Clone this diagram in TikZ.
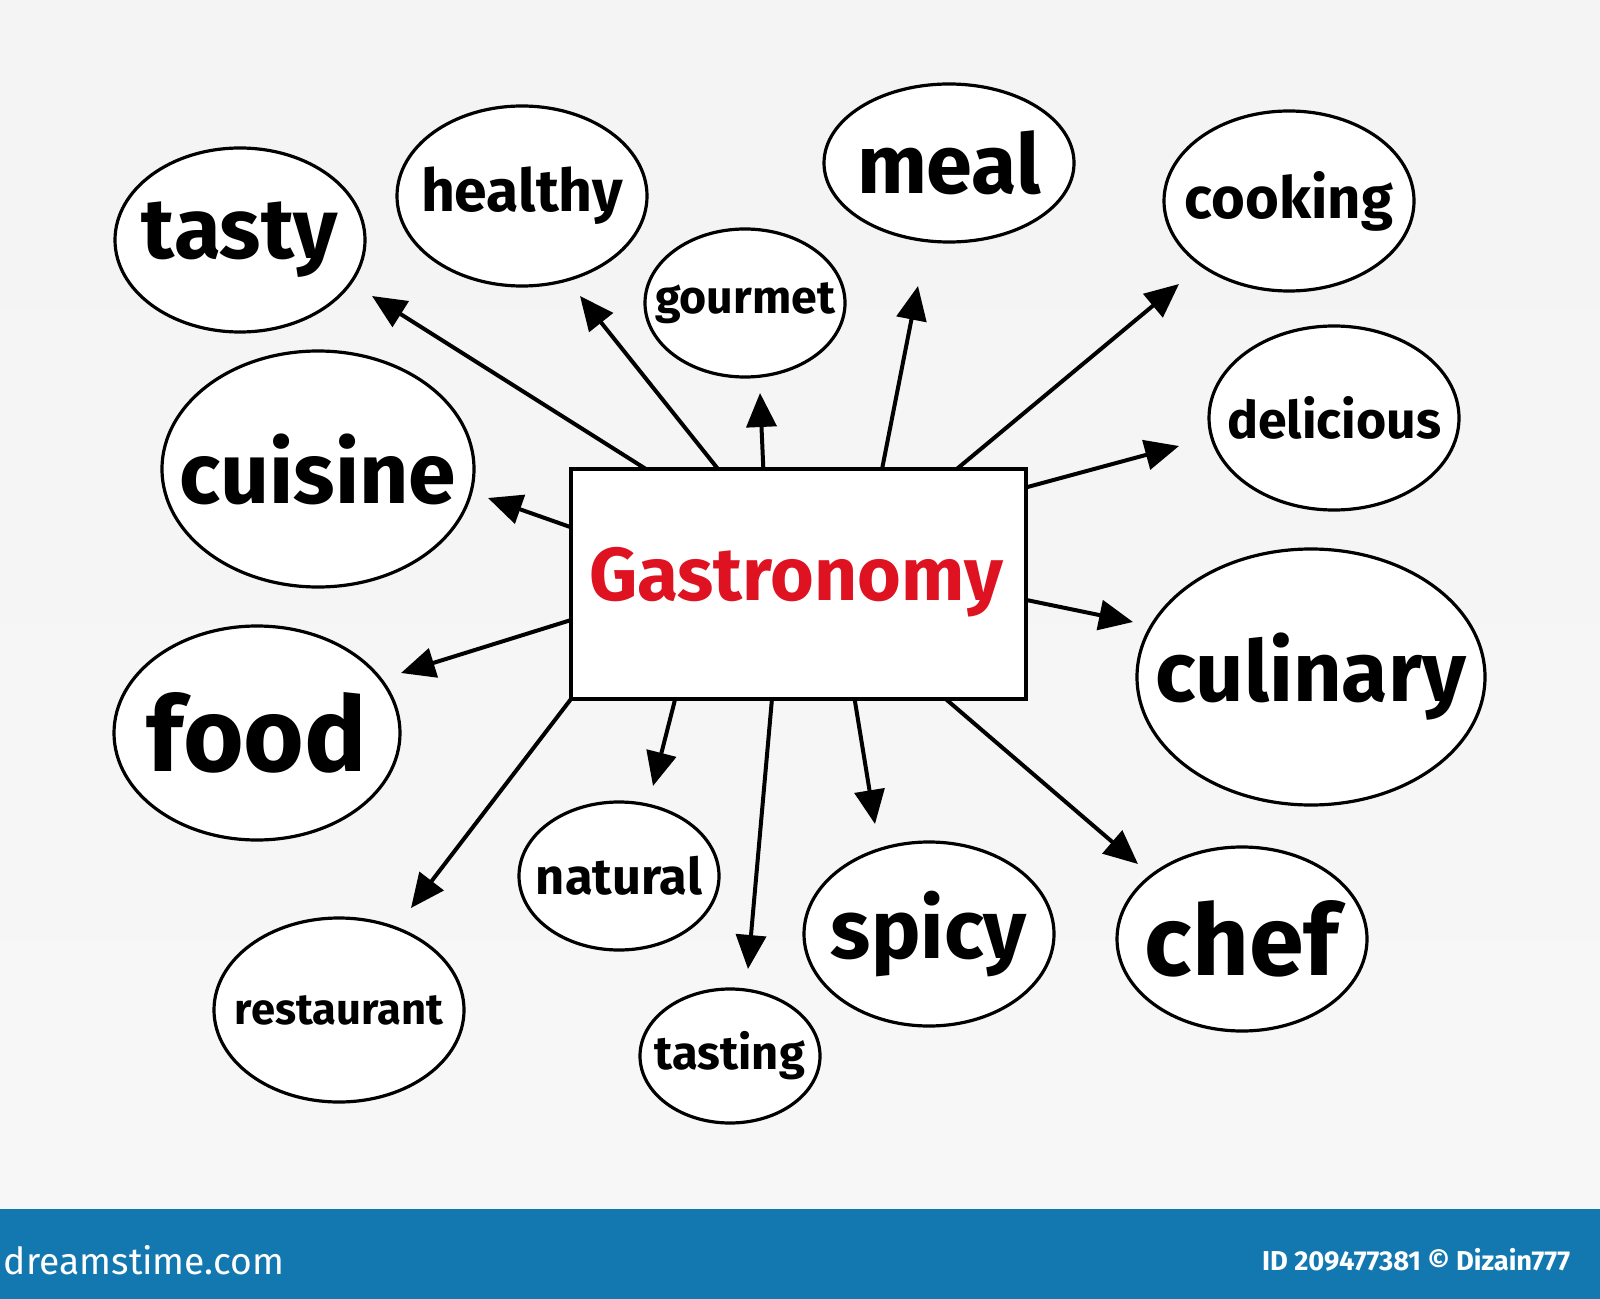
\documentclass[tikz,border=0pt]{standalone}
\usepackage{fontspec}
\setmainfont{Fira Sans}
\usepackage{graphicx}
\usepackage{xcolor}
\usetikzlibrary{arrows.meta}
\usetikzlibrary{shapes.geometric}

\definecolor{gastrored}{RGB}{222,18,32}
\definecolor{barblue}{RGB}{19,120,176}

\tikzset{
  word/.style={ellipse, draw=black, line width=1.6pt, fill=white, inner sep=0pt},
  wordtext/.style={font=\bfseries, inner sep=0pt},
  spoke/.style={line width=2pt, -{Triangle[length=17pt,width=15pt]}},
}
\newcommand{\wordw}[2]{\resizebox{#1pt}{!}{#2}}

\begin{document}
\begin{tikzpicture}[x=0.5pt,y=-0.5pt]
        \useasboundingbox (0,0) rectangle (1600,1299);
        \shade[top color=gray!9, middle color=white, bottom color=gray!6] (0,0) rectangle (1600,1209);
        \fill[barblue] (0,1209) rectangle (1600,1299);

        % centre box
        \node[draw, line width=2.4pt, fill=white, outer sep=0pt, minimum width=227.5pt, minimum height=115pt] (gastro) at (798.5,584) {};
        \node[text=gastrored, font=\bfseries] (title) at (796,582) {\wordw{207}{Gastronomy}};

        \node[word, minimum width=125pt, minimum height=92pt, label={[wordtext]center:{\wordw{98}{tasty}}}] (tasty) at (240,240) {};
        \node[word, minimum width=125pt, minimum height=90pt, label={[wordtext]center:{\wordw{101}{healthy}}}] (healthy) at (522,196) {};
        \node[word, minimum width=100pt, minimum height=74pt, label={[wordtext]center:{\wordw{90}{gourmet}}}] (gourmet) at (745,303) {};
        \node[word, minimum width=125pt, minimum height=79pt, label={[wordtext]center:{\wordw{92}{meal}}}] (meal) at (949,163) {};
        \node[word, minimum width=125pt, minimum height=90pt, label={[wordtext]center:{\wordw{104}{cooking}}}] (cooking) at (1289,201) {};
        \node[word, minimum width=125pt, minimum height=92pt, label={[wordtext]center:{\wordw{107}{delicious}}}] (delicious) at (1334,418) {};
        \node[word, minimum width=156pt, minimum height=118pt, label={[wordtext]center:{\wordw{138}{cuisine}}}] (cuisine) at (318,469) {};
        \node[word, minimum width=174pt, minimum height=128pt, label={[wordtext]center:{\wordw{155}{culinary}}}] (culinary) at (1311,677) {};
        \node[word, minimum width=143pt, minimum height=107pt, label={[wordtext]center:{\wordw{110}{food}}}] (food) at (257,733) {};
        \node[word, minimum width=100pt, minimum height=74pt, label={[wordtext]center:{\wordw{83}{natural}}}] (natural) at (619,876) {};
        \node[word, minimum width=125pt, minimum height=92pt, label={[wordtext]center:{\wordw{104}{restaurant}}}] (restaurant) at (339,1010) {};
        \node[word, minimum width=90pt, minimum height=67pt, label={[wordtext]center:{\wordw{75}{tasting}}}] (tasting) at (730,1056) {};
        \node[word, minimum width=125pt, minimum height=92pt, label={[wordtext]center:{\wordw{98}{spicy}}}] (spicy) at (929,934) {};
        \node[word, minimum width=125pt, minimum height=92pt, label={[wordtext]center:{\wordw{97}{chef}}}] (chef) at (1242,939) {};

        % arrow tips stop short of the words
        \coordinate (tastytip) at (372,296);
        \coordinate (healthytip) at (580,296);
        \coordinate (gourmettip) at (760,393);
        \coordinate (mealtip) at (918,286);
        \coordinate (cookingtip) at (1179,284);
        \coordinate (delicioustip) at (1179,446);
        \coordinate (cuisinetip) at (488,498);
        \coordinate (culinarytip) at (1133,622);
        \coordinate (foodtip) at (401,673);
        \coordinate (restauranttip) at (411,908);
        \coordinate (naturaltip) at (653,786);
        \coordinate (tastingtip) at (748,969);
        \coordinate (spicytip) at (875,824);
        \coordinate (cheftip) at (1138,864);

        \draw[spoke] (gastro.143) -- (tastytip);
        \draw[spoke] (gastro.125) -- (healthytip);
        \draw[spoke] (gastro.107) -- (gourmettip);
        \draw[spoke] (gastro.54) -- (mealtip);
        \draw[spoke] (gastro.36) -- (cookingtip);
        \draw[spoke] (gastro.23) -- (delicioustip);
        \draw[spoke] (gastro.166) -- (cuisinetip);
        \draw[spoke] (gastro.-4.5) -- (culinarytip);
        \draw[spoke] (gastro.-171) -- (foodtip);
        \draw[spoke] (gastro.south west) -- (restauranttip);
        \draw[spoke] (gastro.223) -- (naturaltip);
        \draw[spoke] (gastro.257) -- (tastingtip);
        \draw[spoke] (gastro.296) -- (spicytip);
        \draw[spoke] (gastro.-38) -- (cheftip);

        % footer
        \node[text=white] (site) at (144,1260) {\wordw{140}{dreamstime.com}};
        \node[text=white, font=\bfseries] (imgid) at (1416,1260) {\wordw{154}{ID 209477381 © Dizain777}};
\end{tikzpicture}
\end{document}
